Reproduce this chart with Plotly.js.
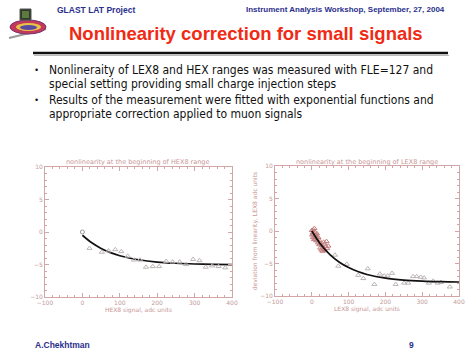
<!DOCTYPE html>
<html>
<head>
<meta charset="utf-8">
<script src="https://cdn.plot.ly/plotly-3.0.1.min.js"></script>
<style>html,body{margin:0;padding:0;background:#fff;}#chart{width:474px;height:355px;}</style>
</head>
<body>
<div id="chart"></div>
<script>
// ---- data ----
var hexX = [19, 52, 70, 88, 104, 121, 138, 154, 170, 188, 205, 224, 241, 260, 277, 296, 313, 330, 347, 364, 382];
var hexY = [-2.5, -3.1, -2.9, -2.7, -3.0, -3.7, -4.3, -4.3, -5.4, -5.3, -5.3, -4.5, -4.6, -4.6, -5.0, -4.2, -4.4, -5.4, -5.2, -5.3, -5.5];
var hexStartX = [0];
var hexStartY = [0];

var lexClusterX = [0, 1, 2, 3, 4, 5, 6, 7, 8, 9, 10, 11, 12, 13, 14, 15, 17, 18, 20, 21, 23, 24, 26, 27, 29, 30, 32, 33, 35, 36, 38, 40, 42, 45];
var lexClusterY = [0.1, -0.6, -0.3, -1.0, 0.2, -0.5, -1.3, 0.4, -0.8, -0.2, -1.1, -0.6, -1.5, -0.9, -0.4, -1.4, -1.8, -1.0, -2.1, -1.5, -2.6, -1.9, -2.9, -2.2, -3.1, -2.5, -1.7, -2.8, -2.0, -3.0, -2.4, -1.6, -2.7, -2.3];
var lexX = [63, 72, 95, 126, 140, 152, 170, 185, 197, 206, 218, 228, 251, 262, 275, 285, 296, 305, 318, 330, 342, 351, 375];
var lexY = [-3.7, -5.4, -5.1, -6.8, -7.3, -5.8, -8.2, -6.6, -6.9, -6.9, -6.5, -8.2, -8.0, -8.0, -7.0, -7.0, -7.1, -7.2, -8.0, -7.7, -8.0, -7.9, -8.6];

var fitX = [0, 25, 50, 75, 100, 125, 150, 200, 250, 300, 350, 400];
var hexFitY = [-0.5, -1.66, -2.52, -3.17, -3.65, -4.0, -4.27, -4.62, -4.81, -4.92, -4.98, -5.02];
var lexFitY = [0, -2.12, -3.67, -4.8, -5.63, -6.24, -6.69, -7.25, -7.55, -7.71, -7.8, -7.85];

var xTicks = [-100, 0, 100, 200, 300, 400];
var yTicks = [-10, -5, 0, 5, 10];

var slideTitle = "Nonlinearity correction for small signals";
var headerLeft = "GLAST LAT Project";
var headerRight = "Instrument Analysis Workshop, September, 27, 2004";
var bulletLines = [
  "Nonlineraity of LEX8 and HEX ranges was measured with FLE=127 and",
  "special setting providing small charge injection steps",
  "Results of the measurement were fitted with exponential functions and",
  "appropriate correction applied to muon signals"
];
var footerLeft = "A.Chekhtman";
var footerRight = "9";
var leftTitle = "nonlinearity at the beginning of HEX8 range";
var rightTitle = "nonlinearity at the beginning of LEX8 range";
var leftXTitle = "HEX8 signal, adc units";
var rightXTitle = "LEX8 signal, adc units";
var rightYTitle = "deviation from linearity, LEX8 adc units";

// ---- styling ----
var W = 474, H = 355;
function px(x){ return x / W; }
function py(y){ return 1 - y / H; }
var pink = '#d2a6a6';
var markGrey = '#bdb5b5';

var traces = [
  {x: fitX, y: hexFitY, xaxis: 'x', yaxis: 'y', mode: 'lines', line: {color: '#111', width: 1.7, shape: 'spline'}, hoverinfo: 'skip'},
  {x: hexX, y: hexY, xaxis: 'x', yaxis: 'y', mode: 'markers', marker: {symbol: 'triangle-up-open', size: 4.5, color: markGrey, line: {width: 1}}},
  {x: hexStartX, y: hexStartY, xaxis: 'x', yaxis: 'y', mode: 'markers', marker: {symbol: 'circle-open', size: 4, color: '#999', line: {width: 1}}},
  {x: lexClusterX, y: lexClusterY, xaxis: 'x2', yaxis: 'y2', mode: 'markers', marker: {symbol: 'triangle-up-open', size: 4.5, color: '#c47e7e', line: {width: 1}}},
  {x: lexX, y: lexY, xaxis: 'x2', yaxis: 'y2', mode: 'markers', marker: {symbol: 'triangle-up-open', size: 4.5, color: markGrey, line: {width: 1}}},
  {x: fitX, y: lexFitY, xaxis: 'x2', yaxis: 'y2', mode: 'lines', line: {color: '#111', width: 1.7, shape: 'spline'}, hoverinfo: 'skip'}
];

function xAxis(domain, title, anchor){
  return {
    domain: domain, anchor: anchor, range: [-100, 400], tickvals: xTicks,
    showgrid: false, zeroline: false, showline: true, linecolor: pink, linewidth: 1,
    mirror: 'allticks', ticks: 'inside', ticklen: 4, tickcolor: pink,
    minor: {dtick: 20, ticklen: 2, tickcolor: pink, ticks: 'inside'},
    tickfont: {family: 'DejaVu Sans', size: 6, color: '#c09a9a'},
    title: {text: title, font: {family: 'DejaVu Sans', size: 6, color: '#c89696'}, standoff: 1},
    fixedrange: true
  };
}
function yAxis(domain, title, anchor){
  return {
    domain: domain, anchor: anchor, range: [-10, 10], tickvals: yTicks,
    showgrid: false, zeroline: false, showline: true, linecolor: pink, linewidth: 1,
    mirror: 'allticks', ticks: 'inside', ticklen: 4, tickcolor: pink,
    minor: {dtick: 1, ticklen: 2, tickcolor: pink, ticks: 'inside'},
    tickfont: {family: 'DejaVu Sans', size: 6, color: '#c09a9a'},
    title: {text: title, font: {family: 'DejaVu Sans', size: 6, color: '#c89696'}, standoff: 2},
    fixedrange: true
  };
}

var ann = [];
function txt(t, x, y, size, color, opts){
  var a = {text: t, x: px(x), y: py(y), xref: 'paper', yref: 'paper', showarrow: false,
    xanchor: 'left', yanchor: 'middle', font: {family: 'Liberation Sans, Arial, sans-serif', size: size, color: color}};
  for (var k in (opts || {})) a[k] = opts[k];
  ann.push(a);
}
txt('<b>' + headerLeft + '</b>', 55, 10, 8.5, '#2b2f8c');
txt('<b>' + headerRight + '</b>', 447, 10, 8, '#2b2f8c', {xanchor: 'right'});
txt('<b>' + slideTitle + '</b>', 246, 34, 18.5, '#f02a14', {xanchor: 'center'});
var bulletY = [70, 84, 100, 114];
bulletLines.forEach(function(l, i){
  txt(l, 47, bulletY[i], 12, '#111', {font: {family: 'DejaVu Sans Condensed, DejaVu Sans, sans-serif', size: 12, color: '#111'}});
});
txt('\u2022', 33, 70, 9, '#111');
txt('\u2022', 33, 100, 9, '#111');
txt('<b>' + footerLeft + '</b>', 33, 345, 8.5, '#2b2f8c');
txt('<b>' + footerRight + '</b>', 416, 345, 8.5, '#2b2f8c', {xanchor: 'right'});
txt(leftTitle, 138, 162, 6.5, '#c08c8c', {xanchor: 'center', font: {family: 'DejaVu Sans', size: 6.5, color: '#c89696'}});
txt(rightTitle, 367, 162, 6.5, '#c08c8c', {xanchor: 'center', font: {family: 'DejaVu Sans', size: 6.5, color: '#c89696'}});

var shapes = [
  {type: 'line', xref: 'paper', yref: 'paper', x0: px(33), x1: px(448), y0: py(53), y1: py(53), line: {color: '#111', width: 2.5}},
  {type: 'line', xref: 'paper', yref: 'paper', x0: px(34), x1: px(449), y0: py(55.5), y1: py(55.5), line: {color: '#bbb', width: 1}},
  // logo
  {type: 'line', xref: 'paper', yref: 'paper', x0: px(9), x1: px(46), y0: py(38), y1: py(29), line: {color: '#999', width: 2}},
  {type: 'circle', xref: 'paper', yref: 'paper', x0: px(10), x1: px(46), y0: py(34), y1: py(20), fillcolor: '#c23a5a', line: {color: '#7a3070', width: 1}},
  {type: 'circle', xref: 'paper', yref: 'paper', x0: px(16), x1: px(41), y0: py(31), y1: py(23), fillcolor: '#e9c24a', line: {width: 0}},
  {type: 'circle', xref: 'paper', yref: 'paper', x0: px(20), x1: px(37), y0: py(30), y1: py(25), fillcolor: '#5a4aa0', line: {width: 0}},
  {type: 'rect', xref: 'paper', yref: 'paper', x0: px(20), x1: px(31), y0: py(20), y1: py(9), fillcolor: '#2c3a2a', line: {color: '#555', width: 1}},
  {type: 'rect', xref: 'paper', yref: 'paper', x0: px(22), x1: px(29), y0: py(18), y1: py(11), fillcolor: '#5f7a40', line: {width: 0}}
];

var layout = {
  width: W, height: H, margin: {l: 0, r: 0, t: 0, b: 0, pad: 0},
  paper_bgcolor: '#fff', plot_bgcolor: '#fff', showlegend: false,
  xaxis: xAxis([px(45), px(232)], leftXTitle, 'y'),
  yaxis: yAxis([py(297), py(167)], '', 'x'),
  xaxis2: xAxis([px(275), px(459)], rightXTitle, 'y2'),
  yaxis2: yAxis([py(296), py(166)], rightYTitle, 'x2'),
  annotations: ann, shapes: shapes
};

Plotly.newPlot('chart', traces, layout, {displayModeBar: false, staticPlot: true});
</script>
</body>
</html>
